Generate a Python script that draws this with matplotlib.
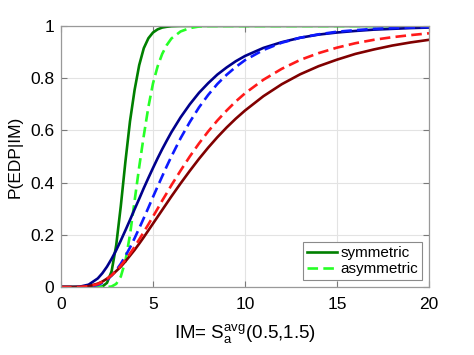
# Fragility curves P(EDP|IM), symmetric vs asymmetric models
import numpy as np
import matplotlib
matplotlib.use('Agg')
from matplotlib import pyplot as plt

plt.rcParams['font.family'] = ['Liberation Sans', 'DejaVu Sans']
plt.rcParams['mathtext.default'] = 'regular'

# IM values where the curves were read
im = [0, 0.5, 1, 1.5, 2, 2.25, 2.5, 2.75, 3, 3.25, 3.5, 3.75, 4, 4.25, 4.5, 4.75,
      5, 5.25, 5.5, 5.75, 6, 6.5, 7, 7.5, 8, 8.5, 9, 9.5, 10, 11, 12, 13, 14,
      15, 16, 17, 18, 19, 20]

# green pair
green_sym = [0, 0, 0, 0, 0, 0.002, 0.016, 0.060, 0.160, 0.310, 0.480, 0.635, 0.755,
             0.850, 0.915, 0.953, 0.975, 0.987, 0.994, 0.997,
             0.999] + [1.0] * 18
green_asym = [0, 0, 0, 0, 0, 0, 0, 0.002, 0.012, 0.040, 0.100, 0.200, 0.330, 0.460,
              0.580, 0.690, 0.780, 0.845, 0.893, 0.927,
              0.952, 0.979, 0.992, 0.998] + [1.0] * 15
# blue pair
blue_sym = [0, 0, 0.001, 0.009, 0.033, 0.053, 0.078, 0.108, 0.141, 0.178, 0.217, 0.257,
            0.298, 0.338, 0.379, 0.418, 0.456, 0.493, 0.528, 0.561,
            0.593, 0.650, 0.700, 0.744, 0.781, 0.814, 0.841, 0.865, 0.885, 0.916,
            0.938, 0.955, 0.967, 0.975, 0.981, 0.986, 0.989, 0.992, 0.994]
blue_asym = [0, 0, 0, 0.001, 0.008, 0.016, 0.027, 0.044, 0.064, 0.089, 0.119, 0.151,
             0.187, 0.225, 0.264, 0.304, 0.345, 0.385, 0.424, 0.463,
             0.500, 0.570, 0.632, 0.688, 0.736, 0.778, 0.813, 0.843, 0.869, 0.908,
             0.936, 0.955, 0.968, 0.978, 0.984, 0.989, 0.992, 0.994, 0.996]
# red pair
red_sym = [0, 0, 0, 0.003, 0.013, 0.021, 0.032, 0.045, 0.061, 0.078, 0.098, 0.120,
           0.142, 0.166, 0.191, 0.217, 0.243, 0.269, 0.295, 0.321,
           0.347, 0.397, 0.445, 0.491, 0.534, 0.574, 0.611, 0.645, 0.676, 0.731,
           0.777, 0.815, 0.846, 0.871, 0.893, 0.910, 0.925, 0.937, 0.947]
red_asym = [0, 0, 0, 0.003, 0.011, 0.020, 0.031, 0.045, 0.062, 0.082, 0.104, 0.128,
            0.154, 0.182, 0.211, 0.240, 0.270, 0.300, 0.331, 0.360,
            0.390, 0.446, 0.500, 0.550, 0.596, 0.638, 0.676, 0.711, 0.742, 0.794,
            0.836, 0.870, 0.896, 0.917, 0.934, 0.947, 0.957, 0.965, 0.972]

fig = plt.figure(figsize=(4.74, 3.55), dpi=100)
ax = fig.add_axes([0.1287, 0.1915, 0.7763, 0.7353])

lw = 1.9
dash = (0, (4, 2))
ax.plot(im, green_sym, color=(0, 0.5, 0), lw=lw, label='symmetric')
ax.plot(im, green_asym, color=(0.15, 1, 0.15), lw=lw, ls=dash, label='asymmetric')
ax.plot(im, blue_sym, color=(0, 0, 0.55), lw=lw)
ax.plot(im, blue_asym, color=(0.05, 0.1, 1), lw=lw, ls=dash)
ax.plot(im, red_sym, color=(0.5, 0, 0), lw=lw)
ax.plot(im, red_asym, color=(1, 0.1, 0.1), lw=lw, ls=dash)

ax.set_xlim(0, 20)
ax.set_ylim(0, 1)
ax.set_xticks([0, 5, 10, 15, 20])
ax.set_yticks([0, 0.2, 0.4, 0.6, 0.8, 1])
ax.set_yticklabels(['0', '0.2', '0.4', '0.6', '0.8', '1'])
ax.grid(True, color='#e3e3e3', lw=0.8)
ax.set_axisbelow(True)
ax.tick_params(direction='in', top=True, right=True, labelsize=12.5, length=4,
               color='#7a7a7a')
ax.tick_params(axis='x', pad=7)
ax.tick_params(axis='y', pad=5)
for s in ax.spines.values():
    s.set_color('#999999')
    s.set_linewidth(0.9)

ax.set_xlabel('IM= $S_a^{avg}$(0.5,1.5)', fontsize=13.5, labelpad=8)
ax.set_ylabel('P(EDP|IM)', fontsize=12.5, labelpad=5)

leg = ax.legend(loc='lower right', fontsize=11, fancybox=False, framealpha=1,
                edgecolor='#8a8a8a', handlelength=2.0, handletextpad=0.2,
                borderpad=0.25, labelspacing=0.15, borderaxespad=0.45)
leg.get_frame().set_linewidth(0.8)

fig.savefig('out.png', dpi=100)
